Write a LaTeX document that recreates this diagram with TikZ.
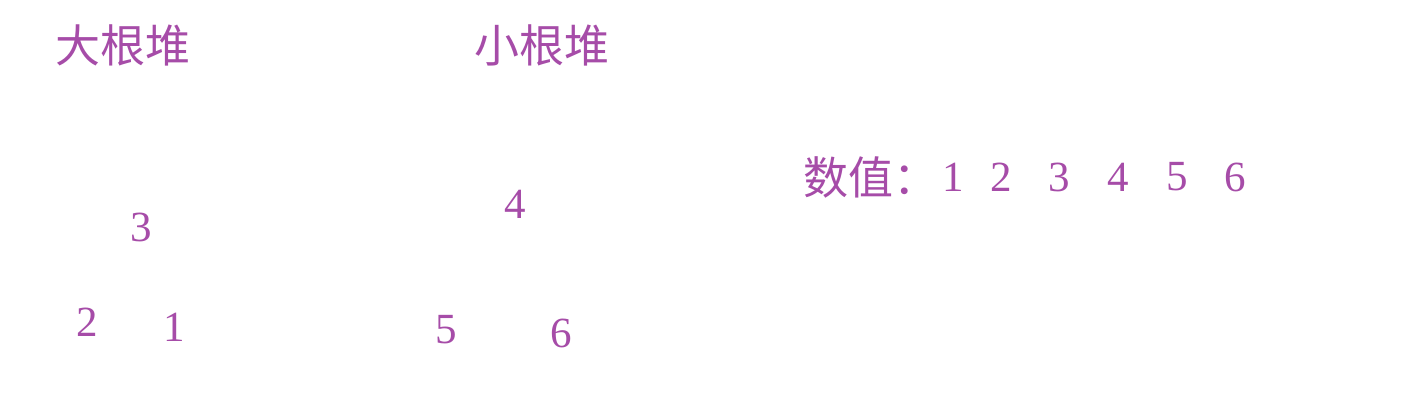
\documentclass[tikz,border=0pt]{standalone}
\usepackage{fontspec}
\setmainfont{Liberation Serif}
\newfontfamily\cjk{Noto Sans CJK SC}
\definecolor{heapPurple}{RGB}{166,76,168}
\tikzset{
  title/.style={text=heapPurple, font=\cjk\fontsize{45}{47}\selectfont, inner sep=0pt, anchor=center},
  num/.style={text=heapPurple, font=\fontsize{43}{45}\selectfont, inner sep=0pt, anchor=center},
}
\begin{document}
\begin{tikzpicture}[x=1pt,y=-1pt]
\useasboundingbox[fill=white] (0,0) rectangle (1421,411);
\node[title] (big) at (123,45) {大根堆};
\node[title] (small) at (542,45) {小根堆};
\node[num] (b3) at (141,227) {3};
\node[num] (b2) at (87,322) {2};
\node[num] (b1) at (174,327) {1};
\node[num] (s4) at (515,204) {4};
\node[num] (s5) at (446,330) {5};
\node[num] (s6) at (561,333) {6};
\node[title, anchor=west] (lab) at (803,177) {数值：};
\node[num] (v1) at (953,177) {1};
\node[num] (v2) at (1001,177) {2};
\node[num] (v3) at (1059,177) {3};
\node[num] (v4) at (1118,177) {4};
\node[num] (v5) at (1177,177) {5};
\node[num] (v6) at (1235,177) {6};
\end{tikzpicture}
\end{document}
